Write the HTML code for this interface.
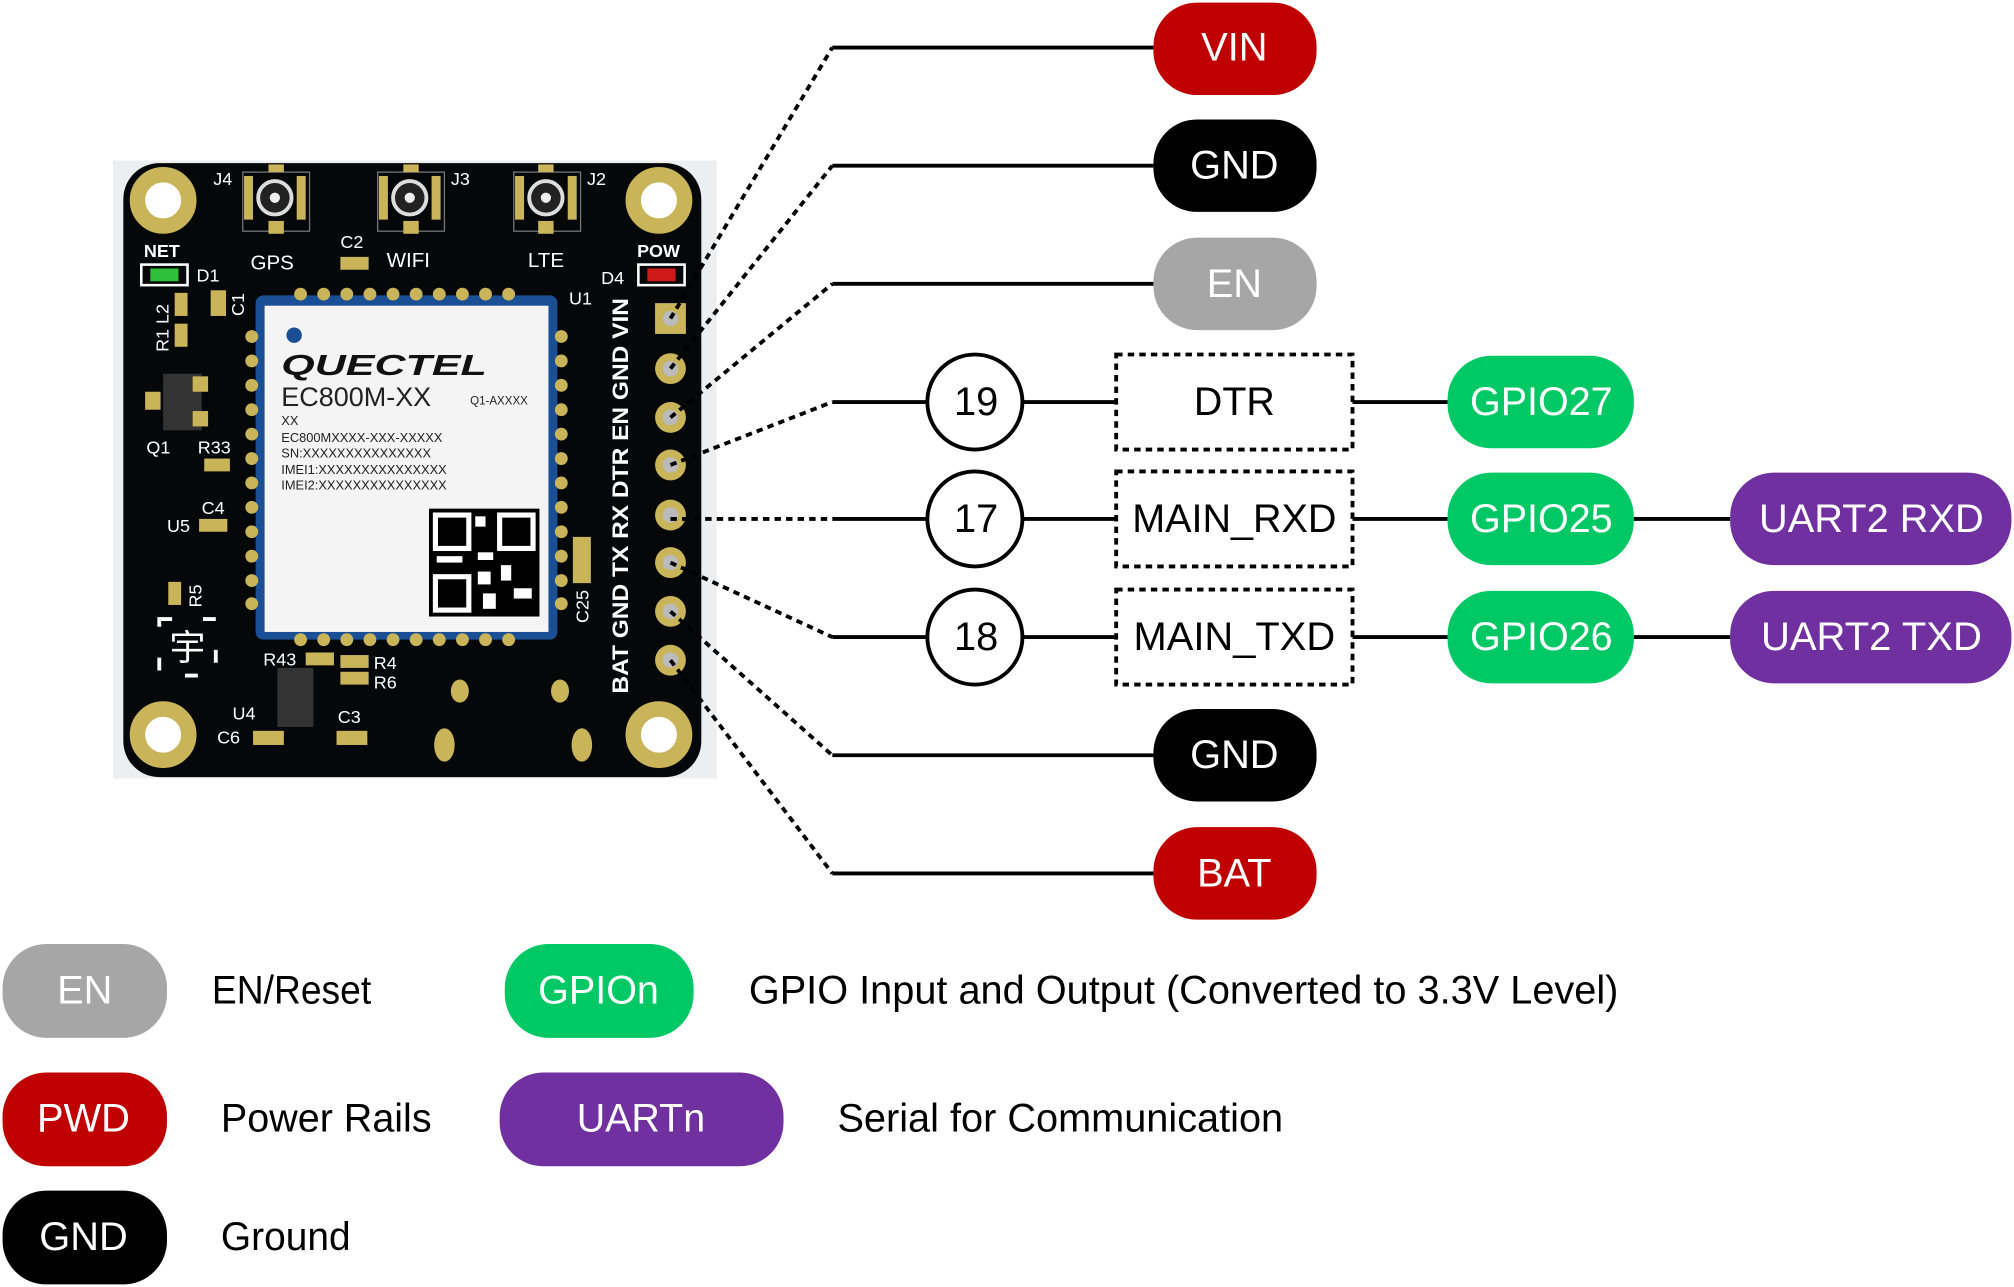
<!DOCTYPE html>
<html><head><meta charset="utf-8"><style>
html,body{margin:0;padding:0;background:#fff;}
svg{display:block;}
text{font-family:"Liberation Sans",sans-serif;}
.pl{fill:#fff;font-size:31px;text-anchor:middle;dominant-baseline:central;}
.bk{fill:#000;font-size:31px;}
.dot{stroke:#000;stroke-width:3;stroke-dasharray:5 4;fill:none;}
.sl{stroke:#000;stroke-width:3;fill:none;}
.st{fill:#fff;font-size:14px;}
</style></head><body>
<svg width="2014" height="1287" viewBox="0 0 1568 1002" xmlns="http://www.w3.org/2000/svg">
<!-- board -->
<rect x="88" y="125" width="470" height="481" fill="#eceeef"/>
<rect x="96" y="127" width="450" height="478" rx="28" fill="#050708"/>
<!-- mount holes -->
<g fill="#fff" stroke="#c9b45a" stroke-width="12">
<circle cx="127" cy="156" r="20"/><circle cx="513" cy="156" r="20"/>
<circle cx="127" cy="572" r="20"/><circle cx="513" cy="572" r="20"/>
</g>
<!-- connectors -->
<g>
<rect x="189" y="134" width="52" height="46" fill="none" stroke="#777" stroke-width="1"/>
<rect x="294" y="134" width="52" height="46" fill="none" stroke="#777" stroke-width="1"/>
<rect x="400" y="134" width="52" height="46" fill="none" stroke="#777" stroke-width="1"/>
<g fill="#c9b45a">
<rect x="190" y="137" width="7" height="34"/><rect x="231" y="137" width="7" height="34"/><rect x="209" y="172" width="12" height="10"/><rect x="209" y="128" width="12" height="6"/>
<rect x="295" y="137" width="7" height="34"/><rect x="336" y="137" width="7" height="34"/><rect x="314" y="172" width="12" height="10"/><rect x="314" y="128" width="12" height="6"/>
<rect x="401" y="137" width="7" height="34"/><rect x="442" y="137" width="7" height="34"/><rect x="419" y="172" width="12" height="10"/><rect x="419" y="128" width="12" height="6"/>
</g>
<g fill="#222" stroke="#ddd" stroke-width="3"><circle cx="214" cy="154" r="13"/><circle cx="319" cy="154" r="13"/><circle cx="425" cy="154" r="13"/></g>
<g fill="#eee"><circle cx="214" cy="154" r="4"/><circle cx="319" cy="154" r="4"/><circle cx="425" cy="154" r="4"/></g>
</g>
<g class="st">
<text x="166" y="144">J4</text><text x="351" y="144">J3</text><text x="457" y="144">J2</text>
<text x="195" y="210" font-size="16">GPS</text><text x="301" y="208" font-size="16">WIFI</text><text x="411" y="208" font-size="16">LTE</text>
<text x="112" y="200" font-weight="bold">NET</text><text x="496" y="200" font-weight="bold">POW</text>
<text x="153" y="219">D1</text><text x="468" y="221">D4</text><text x="265" y="193">C2</text>
<text x="443" y="237">U1</text><text x="114" y="353">Q1</text><text x="154" y="353">R33</text>
<text x="157" y="400">C4</text><text x="130" y="414">U5</text>
<text x="205" y="518">R43</text><text x="291" y="521">R4</text><text x="291" y="536">R6</text>
<text x="181" y="560">U4</text><text x="169" y="579">C6</text><text x="263" y="563">C3</text>
</g>
<!-- LEDs -->
<rect x="110" y="206" width="36" height="16" fill="none" stroke="#fff" stroke-width="2"/>
<rect x="117" y="209" width="22" height="10" fill="#2fbf3a"/>
<rect x="497" y="206" width="36" height="16" fill="none" stroke="#fff" stroke-width="2"/>
<rect x="504" y="209" width="22" height="10" fill="#d01a1a"/>
<rect x="265" y="200" width="22" height="10" fill="#c9b45a"/>
<rect x="164" y="226" width="12" height="20" fill="#c9b45a"/>
<rect x="136" y="228" width="10" height="18" fill="#c9b45a"/><rect x="136" y="252" width="10" height="18" fill="#c9b45a"/>
<rect x="127" y="291" width="30" height="44" fill="#333"/><rect x="113" y="305" width="12" height="14" fill="#c9b45a"/><rect x="150" y="293" width="12" height="12" fill="#c9b45a"/><rect x="150" y="320" width="12" height="12" fill="#c9b45a"/>
<rect x="159" y="357" width="20" height="10" fill="#c9b45a"/><rect x="155" y="404" width="22" height="10" fill="#c9b45a"/>
<rect x="131" y="453" width="10" height="18" fill="#c9b45a"/>
<text x="146" y="514" fill="#fff" font-size="28" text-anchor="middle" font-family="Noto Sans CJK SC,sans-serif">宇</text>
<rect x="124" y="482" width="44" height="44" fill="none" stroke="#fff" stroke-width="3" stroke-dasharray="10 24"/>
<rect x="216" y="520" width="28" height="46" fill="#333"/>
<rect x="238" y="508" width="22" height="10" fill="#c9b45a"/><rect x="265" y="510" width="22" height="10" fill="#c9b45a"/><rect x="265" y="523" width="22" height="10" fill="#c9b45a"/>
<rect x="197" y="569" width="24" height="11" fill="#c9b45a"/><rect x="262" y="569" width="24" height="11" fill="#c9b45a"/>
<rect x="446" y="418" width="14" height="36" fill="#c9b45a"/>
<g fill="#c9b45a"><ellipse cx="358" cy="538" rx="7" ry="9"/><ellipse cx="436" cy="538" rx="7" ry="9"/><ellipse cx="346" cy="580" rx="8" ry="13"/><ellipse cx="453" cy="580" rx="8" ry="13"/></g>
<!-- module -->
<rect x="199" y="230" width="235" height="268" rx="6" fill="#1a4f95"/>
<rect x="206" y="238" width="221" height="254" fill="#f4f4f4"/>
<g fill="#c9b45a">
<g id="tp"><circle cx="234" cy="229" r="5"/><circle cx="252" cy="229" r="5"/><circle cx="270" cy="229" r="5"/><circle cx="288" cy="229" r="5"/><circle cx="306" cy="229" r="5"/><circle cx="324" cy="229" r="5"/><circle cx="342" cy="229" r="5"/><circle cx="360" cy="229" r="5"/><circle cx="378" cy="229" r="5"/><circle cx="396" cy="229" r="5"/></g>
<use href="#tp" y="269"/>
<g id="lp"><circle cx="196" cy="262" r="5"/><circle cx="196" cy="281" r="5"/><circle cx="196" cy="300" r="5"/><circle cx="196" cy="319" r="5"/><circle cx="196" cy="338" r="5"/><circle cx="196" cy="357" r="5"/><circle cx="196" cy="376" r="5"/><circle cx="196" cy="395" r="5"/><circle cx="196" cy="414" r="5"/><circle cx="196" cy="433" r="5"/><circle cx="196" cy="452" r="5"/><circle cx="196" cy="470" r="5"/></g>
<use href="#lp" x="241"/>
</g>
<circle cx="229" cy="261" r="6" fill="#1a4f95"/>
<text x="219" y="292" font-size="22" font-weight="bold" font-style="italic" fill="#111" textLength="160" lengthAdjust="spacingAndGlyphs">QUECTEL</text>
<text x="219" y="316" font-size="21" fill="#222">EC800M-XX</text>
<text x="366" y="315" font-size="9" fill="#222">Q1-AXXXX</text>
<g font-size="10" fill="#222"><text x="219" y="331">XX</text><text x="219" y="344">EC800MXXXX-XXX-XXXXX</text><text x="219" y="356">SN:XXXXXXXXXXXXXXX</text><text x="219" y="369">IMEI1:XXXXXXXXXXXXXXX</text><text x="219" y="381">IMEI2:XXXXXXXXXXXXXXX</text></g>
<rect x="334" y="396" width="86" height="84" fill="#000"/>
<rect x="339" y="401" width="26" height="26" fill="none" stroke="#fff" stroke-width="4"/>
<rect x="389" y="401" width="26" height="26" fill="none" stroke="#fff" stroke-width="4"/>
<rect x="339" y="449" width="26" height="26" fill="none" stroke="#fff" stroke-width="4"/>
<g fill="#fff"><rect x="370" y="402" width="8" height="8"/><rect x="372" y="430" width="12" height="6"/><rect x="340" y="433" width="20" height="5"/><rect x="372" y="445" width="10" height="10"/><rect x="390" y="440" width="8" height="12"/><rect x="400" y="458" width="14" height="8"/><rect x="376" y="462" width="10" height="12"/></g>
<!-- pin labels -->
<text transform="translate(489,540) rotate(-90)" fill="#fff" font-size="17" font-weight="bold" textLength="308" lengthAdjust="spacingAndGlyphs">BAT GND TX  RX DTR EN GND VIN</text>
<text transform="translate(458,485) rotate(-90)" fill="#fff" font-size="14">C25</text>
<text transform="translate(131,274) rotate(-90)" fill="#fff" font-size="14">R1 L2</text>
<text transform="translate(190,246) rotate(-90)" fill="#fff" font-size="14">C1</text>
<text transform="translate(157,473) rotate(-90)" fill="#fff" font-size="14">R5</text>
<!-- pins -->
<rect x="510" y="236" width="24" height="24" fill="#c9b45a"/><circle cx="522" cy="248" r="6" fill="#bbb"/>
<g fill="#c9b45a"><circle cx="522" cy="287" r="12"/><circle cx="522" cy="325" r="12"/><circle cx="522" cy="362" r="12"/><circle cx="522" cy="401" r="12"/><circle cx="522" cy="438" r="12"/><circle cx="522" cy="476" r="12"/><circle cx="522" cy="514" r="12"/></g>
<g fill="#bbb"><circle cx="522" cy="287" r="6"/><circle cx="522" cy="325" r="6"/><circle cx="522" cy="362" r="6"/><circle cx="522" cy="401" r="6"/><circle cx="522" cy="438" r="6"/><circle cx="522" cy="476" r="6"/><circle cx="522" cy="514" r="6"/></g>
<!-- connectors -->
<g class="dot">
<path d="M522 248 L648 37"/><path d="M522 287 L648 129"/><path d="M522 325 L648 221"/><path d="M522 362 L648 313"/>
<path d="M522 404 L648 404"/><path d="M522 438 L648 496"/><path d="M522 476 L648 588"/><path d="M522 514 L648 680"/>
</g>
<g class="sl">
<path d="M648 37H898M648 129H898M648 221H898M648 588H898M648 680H898"/>
<path d="M648 313H722M796 313H869M1053 313H1127"/>
<path d="M648 404H722M796 404H869M1053 404H1127M1272 404H1347"/>
<path d="M648 496H722M796 496H869M1053 496H1127M1272 496H1347"/>
</g>
<g fill="#fff" stroke="#000" stroke-width="3"><circle cx="759" cy="313" r="37"/><circle cx="759" cy="404" r="37"/><circle cx="759" cy="496" r="37"/></g>
<g class="dot"><rect x="869" y="276" width="184" height="74"/><rect x="869" y="367" width="184" height="74"/><rect x="869" y="459" width="184" height="74"/></g>
<g class="bk" text-anchor="middle" dominant-baseline="central" font-size="34">
<text x="760" y="313">19</text><text x="760" y="404">17</text><text x="760" y="496">18</text>
</g>
<g class="bk" text-anchor="middle" dominant-baseline="central">
<text x="961" y="313" textLength="63" lengthAdjust="spacingAndGlyphs">DTR</text>
<text x="961" y="404" textLength="159" lengthAdjust="spacingAndGlyphs">MAIN_RXD</text>
<text x="961" y="496" textLength="157" lengthAdjust="spacingAndGlyphs">MAIN_TXD</text>
</g>
<!-- pills -->
<rect x="898" y="2" width="127" height="72" rx="34" fill="#c00000"/><text class="pl" x="961" y="37">VIN</text>
<rect x="898" y="93" width="127" height="72" rx="34" fill="#000"/><text class="pl" x="961" y="129">GND</text>
<rect x="898" y="185" width="127" height="72" rx="34" fill="#a6a6a6"/><text class="pl" x="961" y="221">EN</text>
<rect x="898" y="552" width="127" height="72" rx="34" fill="#000"/><text class="pl" x="961" y="588">GND</text>
<rect x="898" y="644" width="127" height="72" rx="34" fill="#c00000"/><text class="pl" x="961" y="680">BAT</text>
<rect x="1127" y="277" width="145" height="72" rx="34" fill="#00c864"/><text class="pl" x="1200" y="313" textLength="111" lengthAdjust="spacingAndGlyphs">GPIO27</text>
<rect x="1127" y="368" width="145" height="72" rx="34" fill="#00c864"/><text class="pl" x="1200" y="404" textLength="111" lengthAdjust="spacingAndGlyphs">GPIO25</text>
<rect x="1127" y="460" width="145" height="72" rx="34" fill="#00c864"/><text class="pl" x="1200" y="496" textLength="111" lengthAdjust="spacingAndGlyphs">GPIO26</text>
<rect x="1347" y="368" width="219" height="72" rx="34" fill="#7030a0"/><text class="pl" x="1457" y="404" textLength="175" lengthAdjust="spacingAndGlyphs">UART2 RXD</text>
<rect x="1347" y="460" width="219" height="72" rx="34" fill="#7030a0"/><text class="pl" x="1457" y="496" textLength="172" lengthAdjust="spacingAndGlyphs">UART2 TXD</text>
<!-- legend -->
<rect x="2" y="735" width="128" height="73" rx="34" fill="#a6a6a6"/><text class="pl" x="66" y="771">EN</text>
<rect x="2" y="835" width="128" height="73" rx="34" fill="#c00000"/><text class="pl" x="65" y="871">PWD</text>
<rect x="2" y="927" width="128" height="73" rx="34" fill="#000"/><text class="pl" x="65" y="963">GND</text>
<rect x="393" y="735" width="147" height="73" rx="34" fill="#00c864"/><text class="pl" x="466" y="771" textLength="94" lengthAdjust="spacingAndGlyphs">GPIOn</text>
<rect x="389" y="835" width="221" height="73" rx="34" fill="#7030a0"/><text class="pl" x="499" y="871" textLength="100" lengthAdjust="spacingAndGlyphs">UARTn</text>
<g class="bk" dominant-baseline="central">
<text x="165" y="771" font-family="Liberation Serif,serif" textLength="124" lengthAdjust="spacingAndGlyphs">EN/Reset</text>
<text x="172" y="871" textLength="164" lengthAdjust="spacingAndGlyphs">Power Rails</text>
<text x="172" y="963" textLength="101" lengthAdjust="spacingAndGlyphs">Ground</text>
<text x="583" y="771" textLength="677" lengthAdjust="spacingAndGlyphs">GPIO Input and Output (Converted to 3.3V Level)</text>
<text x="652" y="871" textLength="347" lengthAdjust="spacingAndGlyphs">Serial for Communication</text>
</g>
</svg>
</body></html>
